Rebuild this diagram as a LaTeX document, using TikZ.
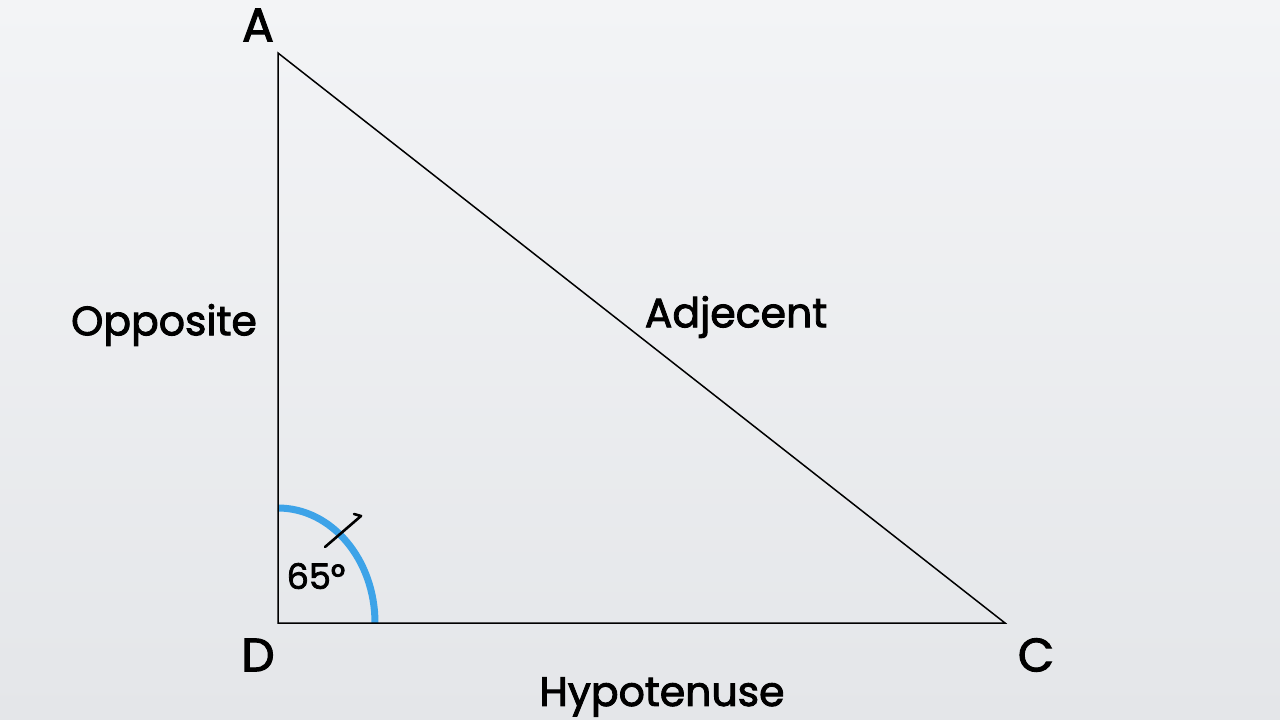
\documentclass[tikz,border=0pt]{standalone}
\usepackage{fontspec}
\setmainfont{Poppins}[FakeBold=2.2]
\definecolor{arcblue}{HTML}{3DA3E8}
\definecolor{bgtop}{HTML}{F3F4F6}
\definecolor{bgbot}{HTML}{E4E6E9}
\begin{document}
\begin{tikzpicture}[x=1pt,y=-1pt,
  vert/.style={font=\fontsize{47}{49}\selectfont, inner sep=0pt},
  side/.style={font=\fontsize{41}{44}\selectfont, inner sep=0pt},
  edge/.style={draw=black, line width=1.5pt}]
\shade[top color=bgtop, bottom color=bgbot] (0,0) rectangle (1280,720);
\useasboundingbox (0,0) rectangle (1280,720);
\coordinate (A) at (278,53);
\coordinate (D) at (278,623);
\coordinate (C) at (1005,623);
% angle arc
\draw[arcblue, line width=7pt] (278,508) arc[start angle=-90, end angle=0, x radius=97, y radius=115];
\draw[edge] (A) -- (D) -- (C) -- cycle;
% tick
\coordinate (t1) at (325,547);
\coordinate (t2) at (361,516);
\coordinate (t3) at (354,514);
\draw[line width=2.6pt, line cap=round, line join=round] (t1) -- (t2) -- (t3);
\node[vert] (la) at (258,25) {A};
\node[vert] (ld) at (258,655) {D};
\node[vert] (lc) at (1036,655) {C};
\node[side] (opp) at (164,325) {Opposite};
\node[side] (adj) at (736,317) {Adjecent};
\node[side] (hyp) at (662,697) {Hypotenuse};
\node[font=\fontsize{35}{37}\selectfont, inner sep=0pt] (ang) at (316,576) {65°};
\end{tikzpicture}
\end{document}
